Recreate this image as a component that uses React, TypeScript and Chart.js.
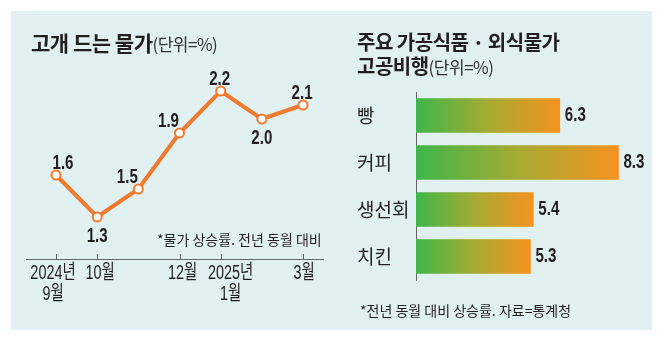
import React, { useEffect, useRef } from "react";
import { Chart, registerables } from "chart.js";

Chart.register(...registerables);

// ---- Left chart data ----
const months = ["2024년|9월", "10월", "11월", "12월", "2025년|1월", "2월", "3월"];
const inflation = [1.6, 1.3, 1.5, 1.9, 2.2, 2.0, 2.1];
const labeledTicks = [0, 1, 3, 4, 6];
const pointLabelPos = ["aboveRight", "below", "aboveLeft", "aboveLeft", "above", "below", "above"];
const tickLabelShift = [-3, 3, 0, 3, 10, 0, 1];

// ---- Right chart data ----
const items = ["빵", "커피", "생선회", "치킨"];
const itemRates = [6.3, 8.3, 5.4, 5.3];

const NUM = "'Liberation Sans', Arial, 'Noto Sans CJK KR', sans-serif";
const KR = "'Noto Sans CJK KR', sans-serif";
const TEXT = "#231f20";
const ORANGE = "#f07a2e";
const SQUEEZE = 0.72;

function narrowText(ctx: CanvasRenderingContext2D, text: string, x: number, y: number, align: "left" | "center") {
  ctx.save();
  ctx.translate(x, y);
  ctx.scale(SQUEEZE, 1);
  ctx.textAlign = align;
  ctx.fillText(text, 0, 0);
  ctx.restore();
}

export default function App() {
  const leftRef = useRef<HTMLCanvasElement>(null);
  const rightRef = useRef<HTMLCanvasElement>(null);

  useEffect(() => {
    document.body.style.margin = "0";
    const pointLabels = {
      id: "pointLabels",
      afterDatasetsDraw(chart: any) {
        const ctx = chart.ctx;
        const meta = chart.getDatasetMeta(0);
        ctx.save();
        ctx.font = `bold 21px ${NUM}`;
        ctx.fillStyle = TEXT;
        ctx.textBaseline = "middle";
        meta.data.forEach((pt: any, i: number) => {
          const pos = pointLabelPos[i];
          let dx = 0, dy = -13;
          if (pos === "aboveRight") { dx = 7; dy = -13; }
          if (pos === "aboveLeft") { dx = -11; dy = -13; }
          if (pos === "below") { dx = 0; dy = 18; }
          if (pos === "above") { dx = -1; dy = -13; }
          narrowText(ctx, inflation[i].toFixed(1), pt.x + dx, pt.y + dy + 1, "center");
        });
        // upward tick marks + tick labels
        const xs = chart.scales.x;
        const b = chart.chartArea.bottom;
        ctx.strokeStyle = "#666";
        ctx.lineWidth = 1;
        ctx.font = `20px ${NUM}`;
        labeledTicks.forEach((t) => {
          const px = xs.getPixelForValue(t);
          const x = Math.round(px) + 0.5;
          ctx.beginPath();
          ctx.moveTo(x, b - 5);
          ctx.lineTo(x, b);
          ctx.stroke();
          const lines = months[t].split("|");
          lines.forEach((ln, k) => {
            narrowText(ctx, ln, px + tickLabelShift[t], b + 14 + k * 21, "center");
          });
        });
        ctx.restore();
      },
    };

    const left = new Chart(leftRef.current!, {
      type: "line",
      data: {
        datasets: [
          {
            data: inflation.map((v, i) => ({ x: i, y: v })),
            borderColor: ORANGE,
            borderWidth: 4,
            pointRadius: 4.5,
            pointBorderWidth: 2,
            pointBackgroundColor: "#fff",
            pointBorderColor: ORANGE,
            tension: 0,
          },
        ],
      },
      options: {
        animation: false,
        responsive: false,
        maintainAspectRatio: false,
        layout: { padding: { left: 26, right: 9, top: 49, bottom: 53 } },
        plugins: { legend: { display: false }, tooltip: { enabled: false } },
        scales: {
          x: {
            type: "linear",
            min: -0.729,
            max: 6.485,
            afterBuildTicks: (axis: any) => {
              axis.ticks = labeledTicks.map((v) => ({ value: v }));
            },
            afterFit: (axis: any) => { axis.height = 50; },
            grid: { display: false },
            border: { display: true, color: "#666", width: 1 },
            ticks: { display: false },
          },
          y: { display: false, min: 1.0, max: 2.5 },
        },
      },
      plugins: [pointLabels],
    });

    const barLabels = {
      id: "barLabels",
      afterDatasetsDraw(chart: any) {
        const ctx = chart.ctx;
        const meta = chart.getDatasetMeta(0);
        ctx.save();
        ctx.font = `bold 21px ${NUM}`;
        ctx.fillStyle = TEXT;
        ctx.textBaseline = "middle";
        meta.data.forEach((bar: any, i: number) => {
          narrowText(ctx, itemRates[i].toFixed(1), bar.x + 5, bar.y, "left");
        });
        ctx.restore();
      },
    };

    const right = new Chart(rightRef.current!, {
      type: "bar",
      data: {
        labels: items,
        datasets: [
          {
            data: itemRates,
            backgroundColor: (c: any) => {
              const chart = c.chart;
              const area = chart.chartArea;
              if (!area || !chart.scales.x) return "#8aab3a";
              const x0 = area.left;
              const x1 = chart.scales.x.getPixelForValue(c.raw);
              const g = chart.ctx.createLinearGradient(x0, 0, x1, 0);
              g.addColorStop(0, "#3db64a");
              g.addColorStop(0.5, "#a5ab32");
              g.addColorStop(1, "#f5921f");
              return g;
            },
            borderWidth: 0,
            barThickness: 34,
          },
        ],
      },
      options: {
        animation: false,
        responsive: false,
        maintainAspectRatio: false,
        indexAxis: "y",
        layout: { padding: { left: 25, right: 25, top: 92, bottom: 82 } },
        plugins: { legend: { display: false }, tooltip: { enabled: false } },
        scales: {
          x: { display: false, min: 1.4, max: 9.0 },
          y: {
            afterFit: (axis: any) => { axis.width = 59; },
            grid: { display: false },
            border: { display: true, color: "#666", width: 1 },
            ticks: {
              crossAlign: "far",
              padding: 0,
              color: TEXT,
              font: { family: KR, size: 19 },
            },
          },
        },
      },
      plugins: [barLabels],
    });

    return () => {
      left.destroy();
      right.destroy();
    };
  }, []);

  return (
    <div style={{ position: "absolute", left: 0, top: 0, width: 664, height: 362, background: "#fff", overflow: "hidden" }}>
      <div style={{ position: "absolute", left: 11, top: 11, width: 641, height: 319, background: "#e1f0f0" }} />
      <canvas ref={leftRef} width={332} height={362} style={{ position: "absolute", left: 0, top: 0 }} />
      <canvas ref={rightRef} width={332} height={362} style={{ position: "absolute", left: 332, top: 0 }} />
      <div style={{ position: "absolute", left: 31, top: 28, whiteSpace: "nowrap", fontFamily: KR, color: TEXT, lineHeight: "28px" }}>
        <span style={{ fontSize: 21, fontWeight: 700, letterSpacing: -0.5 }}>고개 드는 물가</span>
        <span style={{ fontSize: 17, fontWeight: 400, color: "#333", letterSpacing: -0.5 }}>(단위=%)</span>
      </div>
      <div style={{ position: "absolute", left: 157, top: 230, whiteSpace: "nowrap", fontFamily: KR, fontSize: 14, color: TEXT, lineHeight: "18px" }}>
        *물가 상승률. 전년 동월 대비
      </div>
      <div style={{ position: "absolute", left: 357, top: 30, whiteSpace: "nowrap", fontFamily: KR, color: TEXT, lineHeight: "24px" }}>
        <div style={{ fontSize: 20, fontWeight: 700, letterSpacing: -0.5 }}>주요 가공식품 · 외식물가</div>
        <div>
          <span style={{ fontSize: 20, fontWeight: 700, letterSpacing: -0.5 }}>고공비행</span>
          <span style={{ fontSize: 17, fontWeight: 400, color: "#333", letterSpacing: -0.5 }}>(단위=%)</span>
        </div>
      </div>
      <div style={{ position: "absolute", left: 360, top: 301, whiteSpace: "nowrap", fontFamily: KR, fontSize: 14, color: TEXT, lineHeight: "18px" }}>
        *전년 동월 대비 상승률. 자료=통계청
      </div>
    </div>
  );
}
